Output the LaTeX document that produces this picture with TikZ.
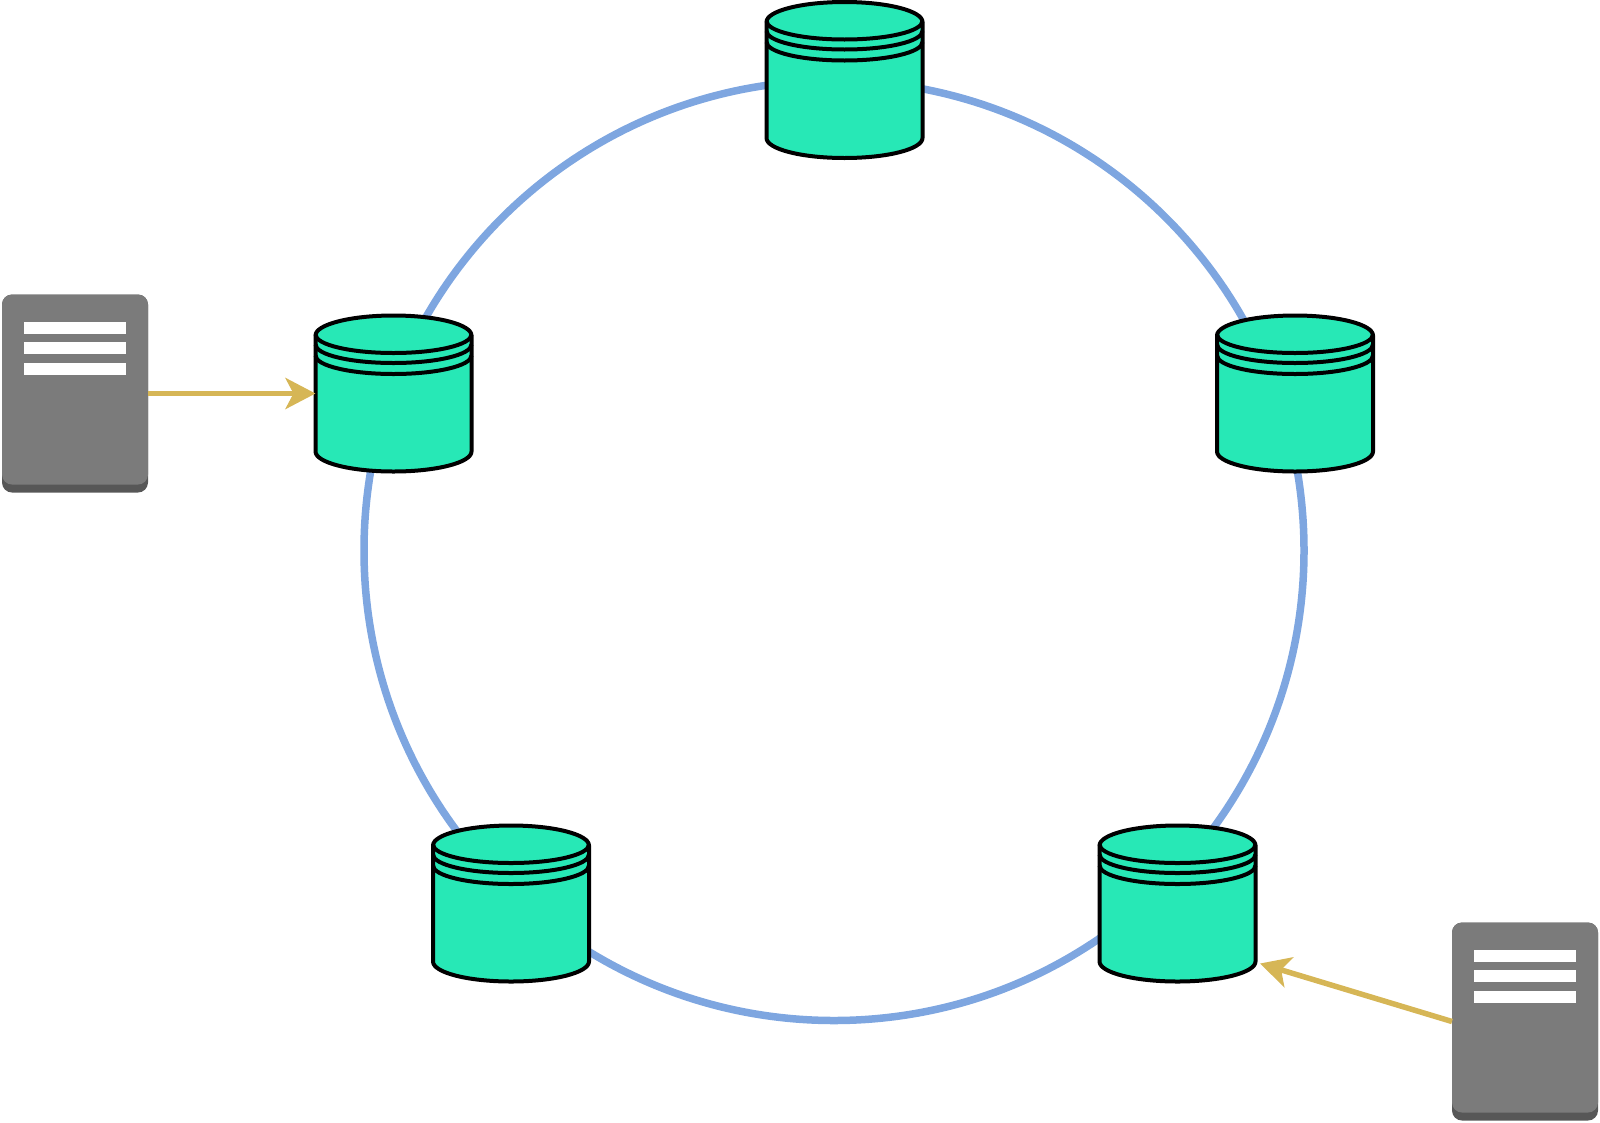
\documentclass[tikz,border=0pt]{standalone}
\usetikzlibrary{arrows.meta}
\definecolor{ringblue}{HTML}{7EA6E0}
\definecolor{cylgreen}{HTML}{27E8B6}
\definecolor{arrowgold}{HTML}{D6B656}
\definecolor{srvgray}{HTML}{7B7B7B}
\definecolor{srvdark}{HTML}{575757}
\tikzset{
  x=1pt,y=-1pt,
  ringline/.style={draw=ringblue,line width=7.5pt},
  cylbody/.style={draw=black,fill=cylgreen,line width=4pt,line join=round},
  cylline/.style={draw=black,line width=4pt},
  anchorbox/.style={rectangle,minimum width=156pt,minimum height=156pt,inner sep=0pt,outer sep=0pt},
  srvbox/.style={rectangle,minimum width=146pt,minimum height=198pt,inner sep=0pt,outer sep=0pt},
  srvbase/.style={fill=srvdark,rounded corners=10pt},
  srvface/.style={fill=srvgray,rounded corners=10pt},
  srvbar/.style={fill=white},
  flow/.style={draw=arrowgold,line width=5.5pt,-{Stealth[length=30pt,width=31pt,inset=8pt]}},
}
\newcommand{\cylnode}[3]{%
  \begin{scope}[shift={(#2,#3)}]
    \path[cylbody] (-78,-58) -- (-78,58) arc[start angle=180,end angle=360,x radius=78,y radius=-20] -- (78,-58)
       arc[start angle=0,end angle=180,x radius=78,y radius=-20] -- cycle;
    \path[cylline] (-78,-59) arc[start angle=180,end angle=360,x radius=78,y radius=-18.5];
    \path[cylline] (-78,-49) arc[start angle=180,end angle=360,x radius=78,y radius=-18.5];
    \path[cylline] (-78,-38) arc[start angle=180,end angle=360,x radius=78,y radius=-18.5];
    \node[anchorbox] (#1) at (0,0) {};
  \end{scope}}
\newcommand{\srvnode}[3]{%
  \begin{scope}[shift={(#2,#3)}]
    \path[srvbase] (-73,-99) rectangle (73,99);
    \path[srvface] (-73,-99) rectangle (73,91);
    \path[srvbar] (-51,-72) rectangle (50.5,-60);
    \path[srvbar] (-51,-51.5) rectangle (50.5,-39.5);
    \path[srvbar] (-51,-31) rectangle (50.5,-19);
    \node[srvbox] (#1) at (0,0) {};
  \end{scope}}
\begin{document}
\begin{tikzpicture}
\useasboundingbox (0,0) rectangle (1600,1122);
\node[circle,ringline,minimum size=940pt,inner sep=0pt,outer sep=0pt] (ring) at (834,550.5) {};
\cylnode{top}{844.5}{80}
\cylnode{left}{393.5}{393.5}
\cylnode{right}{1295}{393.5}
\cylnode{botleft}{511}{903.5}
\cylnode{botright}{1177.5}{903.5}
\srvnode{srvA}{75}{393.5}
\srvnode{srvB}{1525}{1021.5}
\coordinate (hitB) at (1260,963.5);
\draw[flow] (srvA.east) -- (left.west);
\draw[flow] (srvB.west) -- (hitB);
\end{tikzpicture}
\end{document}
